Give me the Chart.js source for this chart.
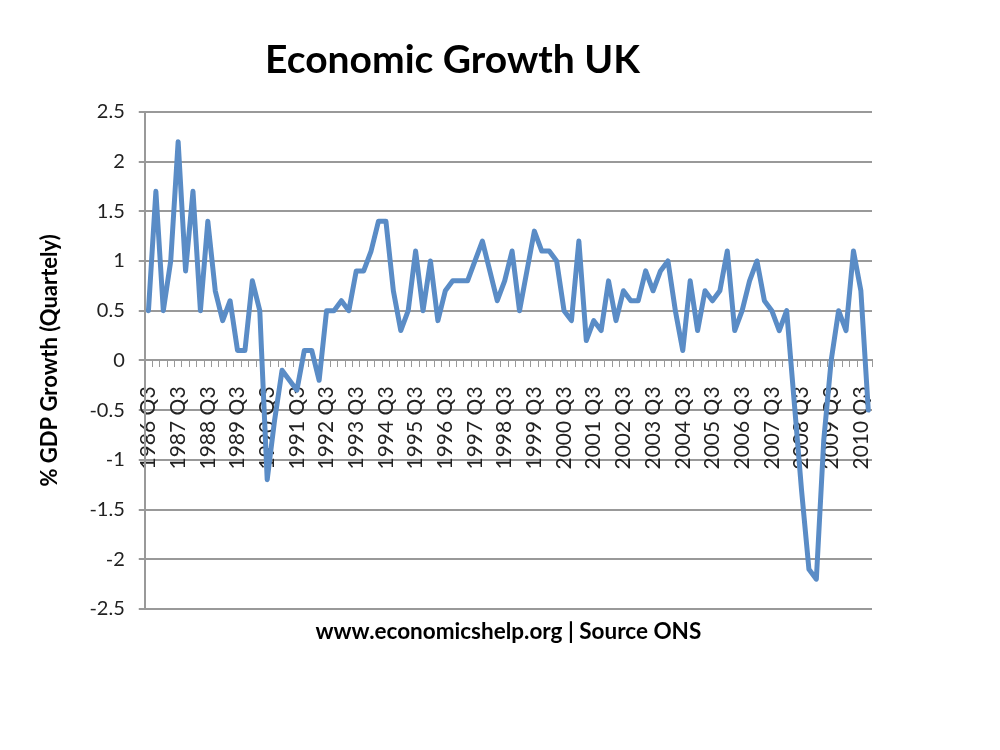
<!DOCTYPE html>
<html>
<head>
<meta charset="utf-8">
<script src="https://cdn.jsdelivr.net/npm/chart.js@4.4.0/dist/chart.umd.min.js"></script>
<style>
  html, body { margin: 0; padding: 0; background: #fff; }
  #wrap { width: 1000px; height: 750px; }
</style>
</head>
<body>
<div id="wrap"><canvas id="growthChart" width="1000" height="750"></canvas></div>
<script>
// years on the x axis, quarters inside each year
const years = [1986, 1987, 1988, 1989, 1990, 1991, 1992, 1993, 1994, 1995, 1996, 1997, 1998,
  1999, 2000, 2001, 2002, 2003, 2004, 2005, 2006, 2007, 2008, 2009, 2010];
const quarters = ['Q1', 'Q2', 'Q3', 'Q4'];

// quarterly GDP growth, 1986 Q3 .. 2010 Q4
const gdpGrowth = [
  0.5, 1.7, 0.5, 1.0, 2.2, 0.9, 1.7, 0.5, 1.4, 0.7,
  0.4, 0.6, 0.1, 0.1, 0.8, 0.5, -1.2, -0.6, -0.1, -0.2,
  -0.3, 0.1, 0.1, -0.2, 0.5, 0.5, 0.6, 0.5, 0.9, 0.9,
  1.1, 1.4, 1.4, 0.7, 0.3, 0.5, 1.1, 0.5, 1.0, 0.4,
  0.7, 0.8, 0.8, 0.8, 1.0, 1.2, 0.9, 0.6, 0.8, 1.1,
  0.5, 0.9, 1.3, 1.1, 1.1, 1.0, 0.5, 0.4, 1.2, 0.2,
  0.4, 0.3, 0.8, 0.4, 0.7, 0.6, 0.6, 0.9, 0.7, 0.9,
  1.0, 0.5, 0.1, 0.8, 0.3, 0.7, 0.6, 0.7, 1.1, 0.3,
  0.5, 0.8, 1.0, 0.6, 0.5, 0.3, 0.5, -0.4, -1.3, -2.1,
  -2.2, -0.8, 0.0, 0.5, 0.3, 1.1, 0.7, -0.5
];

const yTicks = [-2.5, -2, -1.5, -1, -0.5, 0, 0.5, 1, 1.5, 2, 2.5];

// build "1986 Q3" style labels, starting at Q3 of the first year
const labels = [];
years.forEach(function (y) {
  quarters.forEach(function (q, qi) {
    if (y === years[0] && qi < 2) return;
    labels.push(y + ' ' + q);
  });
});
labels.length = gdpGrowth.length;

const font = 'Lato, "Open Sans", sans-serif';

new Chart(document.getElementById('growthChart'), {
  type: 'line',
  data: {
    labels: labels,
    datasets: [{
      data: gdpGrowth,
      borderColor: '#5a8cc6',
      borderWidth: 5,
      pointRadius: 0,
      tension: 0,
      borderJoinStyle: 'round',
      borderCapStyle: 'round'
    }]
  },
  options: {
    responsive: false,
    animation: false,
    layout: { padding: { left: 33, right: 128, top: 0, bottom: 101 } },
    plugins: {
      legend: { display: false },
      tooltip: { enabled: false },
      title: {
        display: true,
        text: 'Economic Growth UK',
        color: '#000',
        font: { family: font, size: 39, weight: 'bold' },
        padding: { top: 37, bottom: 28 }
      }
    },
    scales: {
      x: {
        type: 'category',
        position: { y: 0 },
        offset: true,
        grid: { drawOnChartArea: false, offset: true, tickLength: 6, color: '#999', lineWidth: 1 },
        border: { color: '#999', width: 2 },
        ticks: {
          autoSkip: false,
          minRotation: 90,
          maxRotation: 90,
          padding: 20,
          color: '#222',
          font: { family: font, size: 21 },
          callback: function (value, index) {
            return index % 4 === 0 ? this.getLabelForValue(value) : '';
          }
        }
      },
      note: {
        axis: 'x',
        type: 'linear',
        position: 'bottom',
        grid: { display: false, drawTicks: false },
        border: { display: false },
        ticks: { display: false },
        title: {
          display: true,
          text: 'www.economicshelp.org | Source ONS',
          color: '#000',
          font: { family: font, size: 22.5, weight: 'bold' },
          padding: { top: 9, bottom: 4 }
        }
      },
      y: {
        min: -2.5,
        max: 2.5,
        afterBuildTicks: function (scale) {
          scale.ticks = yTicks.map(function (v) { return { value: v }; });
        },
        grid: { color: '#999', lineWidth: 2, tickLength: 6 },
        border: { color: '#999', width: 2 },
        ticks: {
          padding: 14,
          color: '#222',
          font: { family: font, size: 20 },
          callback: function (value) { return String(value); }
        },
        title: {
          display: true,
          text: '% GDP Growth (Quartely)',
          color: '#000',
          font: { family: font, size: 22, weight: 'bold' },
          padding: { top: 4, bottom: 12 }
        }
      }
    }
  }
});
</script>
</body>
</html>
